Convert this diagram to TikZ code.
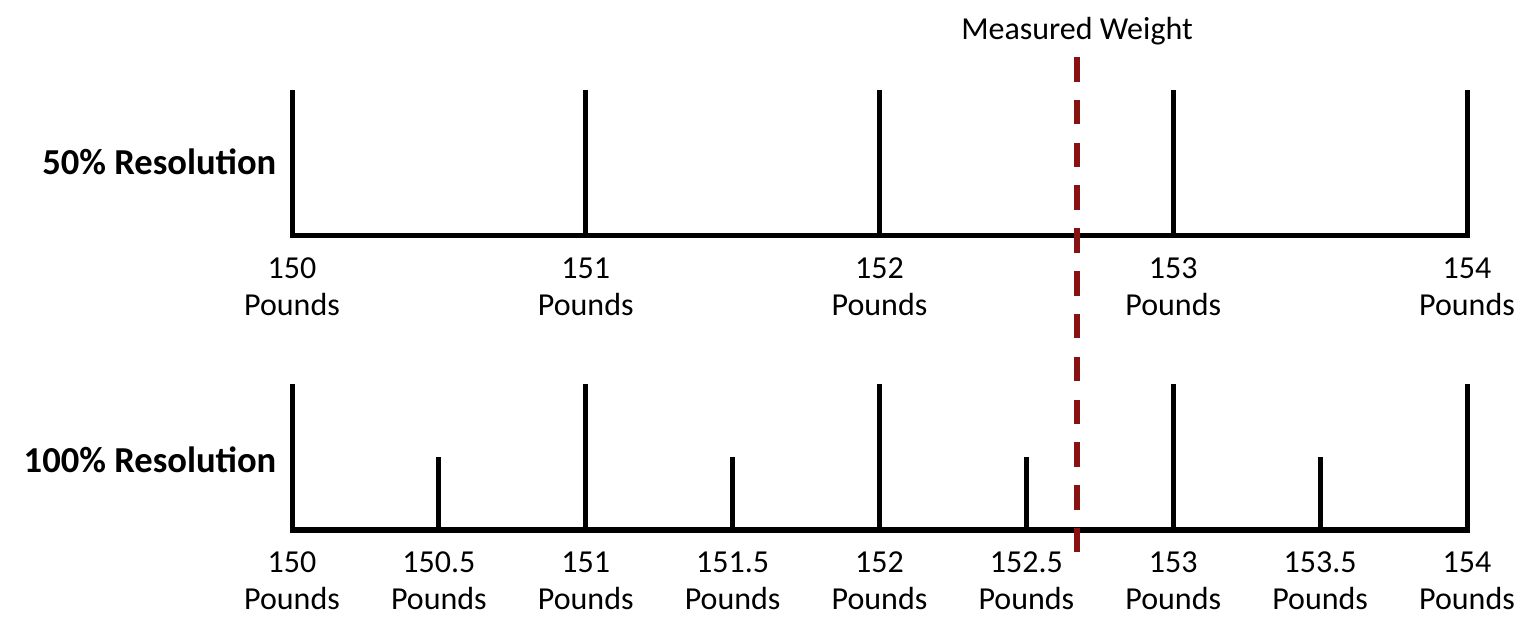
\documentclass[tikz,border=0pt]{standalone}
\usepackage{fontspec}
\setmainfont{Carlito}
\usetikzlibrary{positioning}

\definecolor{measred}{RGB}{136,18,18}

\begin{document}
\begin{tikzpicture}[
            x=0.01cm, y=-0.01cm,
            font=\fontsize{9.1}{10.8}\selectfont,
            axisline/.style={line width=0.05cm, line join=miter, black},
            scalelabel/.style={anchor=base, align=center, inner sep=0pt},
            reslabel/.style={anchor=base east, inner sep=0pt, font=\fontsize{10.4}{12}\selectfont\bfseries},
            measline/.style={line width=0.055cm, measred, dash pattern=on 0.245cm off 0.183cm}
        ]
        \useasboundingbox (0,0) rectangle (1536,640);

        % Ends of the scales
        \coordinate (topL) at (292,236);
        \coordinate (topR) at (1467,236);
        \coordinate (botL) at (292,530);
        \coordinate (botR) at (1467,530);

        % Scale names
        \node (res50) [reslabel] at (277,175) {50\% Resolution};
        \node (res100) [reslabel] at (277,472) {100\% Resolution};

        % Scale at 50%
        \draw [axisline] (292,90) -- (topL) -- (topR) -- (1467,90);
        \foreach \k/\v in {0/150,1/151,2/152,3/153,4/154} {
            \draw [axisline] (292+293.75*\k,236) -- (292+293.75*\k,90);
            \node (top\k) [scalelabel] at (292+293.75*\k,316) {\v\\Pounds};
        }

        % Scale at 100%
        \draw [axisline] (292,384) -- (botL) -- (botR) -- (1467,384);
        \foreach \k/\v in {0/150,1/150.5,2/151,3/151.5,4/152,5/152.5,6/153,7/153.5,8/154} {
            \pgfmathsetmacro{\tiptop}{isodd(\k) ? 457 : 384}
            \draw [axisline] (292+146.875*\k,530) -- (292+146.875*\k,\tiptop);
            \node (bot\k) [scalelabel] at (292+146.875*\k,610) {\v\\Pounds};
        }

        % Measured weight
        \node (meas) [anchor=base, inner sep=0pt] at (1077,40) {Measured Weight};
        \coordinate (measA) at (1077,57);
        \coordinate (measB) at (1077,552);
        \draw [measline] (measA) -- (measB);

    \end{tikzpicture}
\end{document}
